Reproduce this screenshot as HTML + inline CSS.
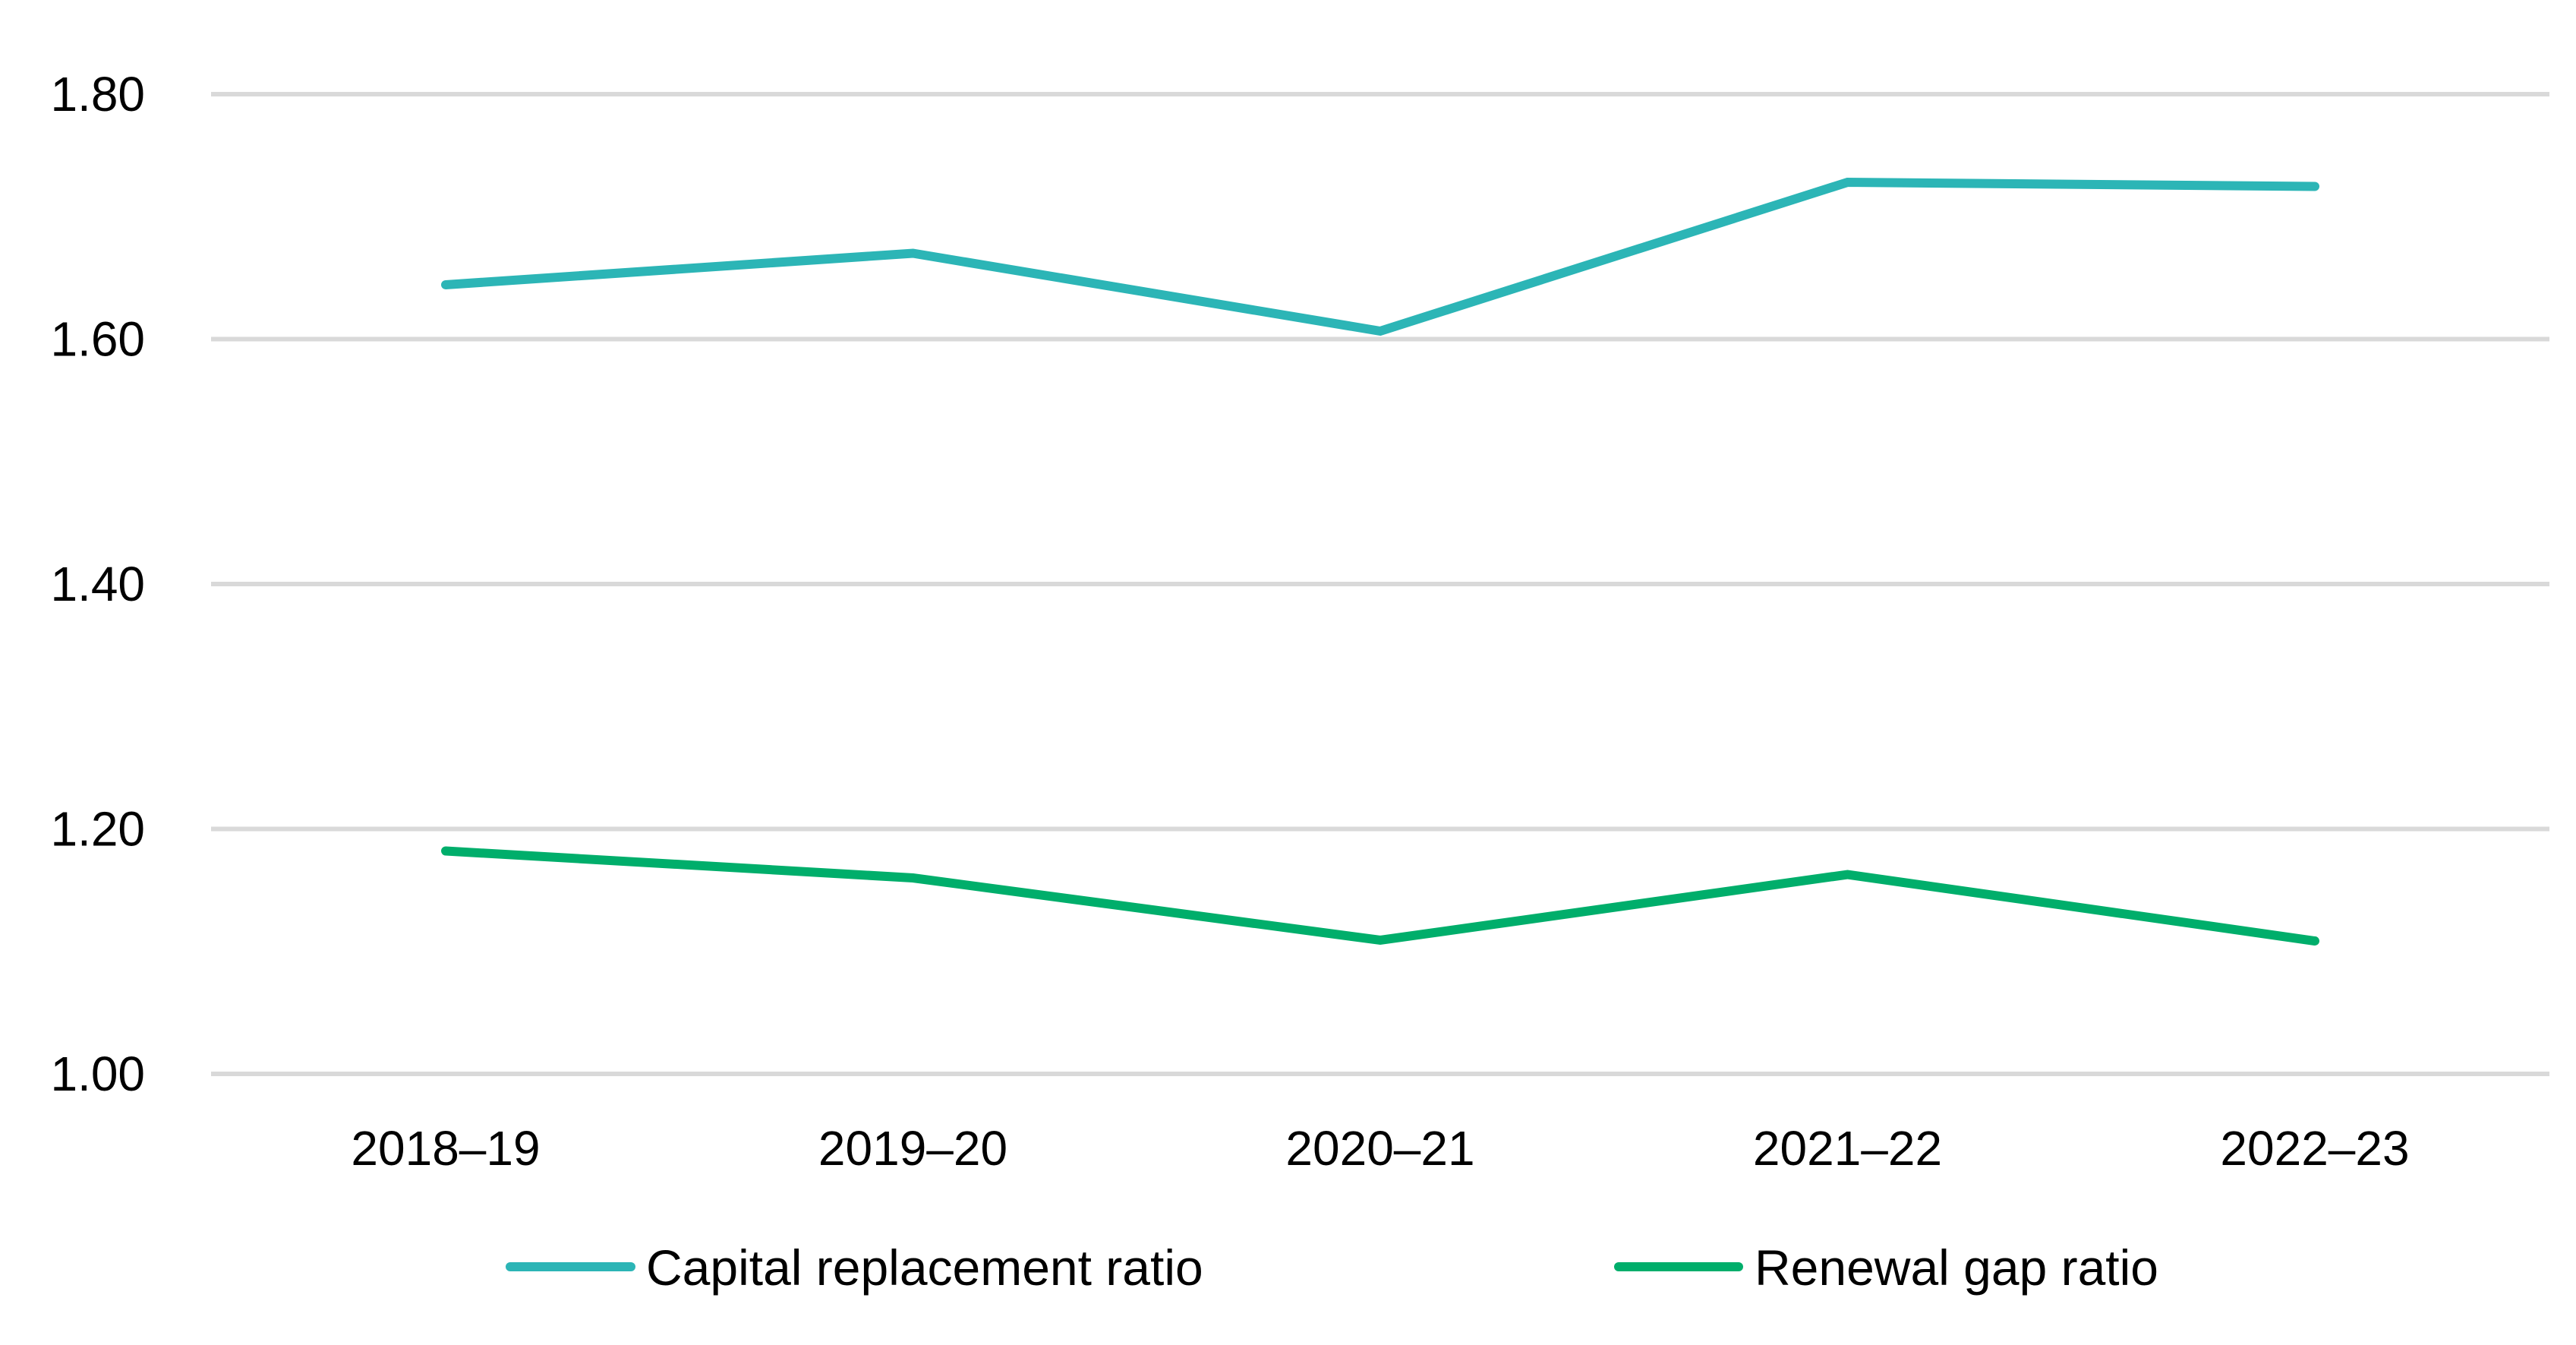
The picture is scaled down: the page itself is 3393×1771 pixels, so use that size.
<!DOCTYPE html>
<html>
<head>
<meta charset="utf-8">
<style>
  html,body{margin:0;padding:0;background:#fff;}
  svg{display:block;}
  text{font-family:"Liberation Sans",Arial,sans-serif;fill:#000;}
</style>
</head>
<body>
<svg width="3393" height="1771" viewBox="0 0 3393 1771" xmlns="http://www.w3.org/2000/svg">
  <rect x="0" y="0" width="3393" height="1771" fill="#fff"/>
  <!-- gridlines -->
  <g stroke="#d9d9d9" stroke-width="6">
    <line x1="278" y1="124" x2="3358" y2="124"/>
    <line x1="278" y1="446.5" x2="3358" y2="446.5"/>
    <line x1="278" y1="769" x2="3358" y2="769"/>
    <line x1="278" y1="1091.5" x2="3358" y2="1091.5"/>
    <line x1="278" y1="1414" x2="3358" y2="1414"/>
  </g>
  <!-- y labels -->
  <g font-size="64" text-anchor="end">
    <text x="191" y="146">1.80</text>
    <text x="191" y="468.5">1.60</text>
    <text x="191" y="791">1.40</text>
    <text x="191" y="1113.5">1.20</text>
    <text x="191" y="1436">1.00</text>
  </g>
  <!-- x labels -->
  <g font-size="64" text-anchor="middle">
    <text x="587" y="1534">2018–19</text>
    <text x="1202.5" y="1534">2019–20</text>
    <text x="1818" y="1534">2020–21</text>
    <text x="2433.5" y="1534">2021–22</text>
    <text x="3049" y="1534">2022–23</text>
  </g>
  <!-- series -->
  <polyline fill="none" stroke="#2cb5b6" stroke-width="12" stroke-linejoin="miter" stroke-linecap="round"
    points="587,375 1202.5,333.5 1818,436 2433.5,240 3049,245.5"/>
  <polyline fill="none" stroke="#00ae6b" stroke-width="12" stroke-linejoin="miter" stroke-linecap="round"
    points="587,1120.5 1202.5,1156 1818,1238 2433.5,1151.5 3049,1239"/>
  <!-- legend -->
  <line x1="672" y1="1668" x2="831" y2="1668" stroke="#2cb5b6" stroke-width="12" stroke-linecap="round"/>
  <text x="851" y="1692" font-size="66">Capital replacement ratio</text>
  <line x1="2132" y1="1668" x2="2290" y2="1668" stroke="#00ae6b" stroke-width="12" stroke-linecap="round"/>
  <text x="2311" y="1692" font-size="66">Renewal gap ratio</text>
</svg>
</body>
</html>
